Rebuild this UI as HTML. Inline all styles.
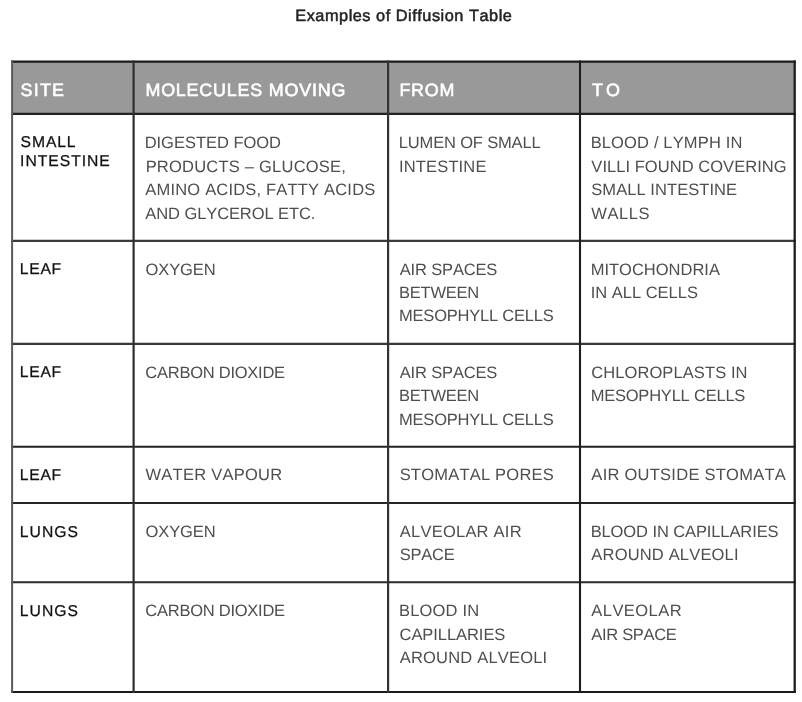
<!DOCTYPE html>
<html lang="en">
<head>
<meta charset="utf-8">
<title>Examples of Diffusion Table</title>
<style>
html,body{margin:0;padding:0;background:#fff;}
body{width:802px;height:702px;position:relative;overflow:hidden;font-family:"Liberation Sans",sans-serif;}
.l{position:absolute;font-kerning:none;text-rendering:geometricPrecision;white-space:nowrap;line-height:1;margin:0;padding:0;}
.t,.t thead,.t tbody,.t tr,.t th,.t td{display:contents;}
h1.l{font-weight:400;}
.g{filter:blur(0.4px);}
.l{filter:blur(0.25px);}
.ttl{font-size:16.3px;font-weight:400;color:#222;-webkit-text-stroke:0.5px #222;}
.hd{font-size:17.9px;font-weight:400;color:#fff;-webkit-text-stroke:0.6px #fff;}
.st{font-size:15.7px;font-weight:400;color:#111;-webkit-text-stroke:0.25px #111;}
.bd{font-size:16.5px;font-weight:400;color:#4e4e4e;}
</style>
</head>
<body>
<svg class="g" width="802" height="702" viewBox="0 0 802 702" style="position:absolute;left:0;top:0">
<rect x="12.10" y="61.60" width="782.60" height="52.30" fill="#999"/>
<line x1="11.10" y1="61.60" x2="795.85" y2="61.60" stroke="#1c1c1c" stroke-width="2.20"/>
<line x1="11.10" y1="113.90" x2="795.85" y2="113.90" stroke="#222" stroke-width="2.10"/>
<line x1="11.10" y1="240.80" x2="795.85" y2="240.80" stroke="#3a3a3a" stroke-width="2.20"/>
<line x1="11.10" y1="343.80" x2="795.85" y2="343.80" stroke="#383838" stroke-width="2.20"/>
<line x1="11.10" y1="446.80" x2="795.85" y2="446.80" stroke="#222" stroke-width="2.00"/>
<line x1="11.10" y1="502.90" x2="795.85" y2="502.90" stroke="#262626" stroke-width="2.00"/>
<line x1="11.10" y1="582.30" x2="795.85" y2="582.30" stroke="#2a2a2a" stroke-width="2.10"/>
<line x1="11.10" y1="692.00" x2="795.85" y2="692.00" stroke="#1a1a1a" stroke-width="2.20"/>
<line x1="12.10" y1="60.50" x2="12.10" y2="693.10" stroke="#5a5a5a" stroke-width="2.00"/>
<line x1="133.60" y1="60.50" x2="133.60" y2="693.10" stroke="#2e2e2e" stroke-width="2.20"/>
<line x1="388.10" y1="60.50" x2="388.10" y2="693.10" stroke="#333" stroke-width="2.20"/>
<line x1="580.00" y1="60.50" x2="580.00" y2="693.10" stroke="#1e1e1e" stroke-width="2.10"/>
<line x1="794.70" y1="60.50" x2="794.70" y2="693.10" stroke="#1c1c1c" stroke-width="2.30"/>
</svg>
<h1 class="l ttl" style="left:295.31px;top:8.00px;letter-spacing:0.532px">Examples of Diffusion Table</h1>
<table class="t">
<thead>
<tr>
<th><span class="l hd" style="left:20.49px;top:82.00px;letter-spacing:1.265px">SITE</span></th>
<th><span class="l hd" style="left:145.43px;top:82.00px;letter-spacing:0.801px">MOLECULES MOVING</span></th>
<th><span class="l hd" style="left:399.43px;top:82.00px;letter-spacing:0.747px">FROM</span></th>
<th><span class="l hd" style="left:591.90px;top:82.00px;letter-spacing:3.201px">TO</span></th>
</tr>
</thead>
<tbody>
<tr>
<td><span class="l st" style="left:20.61px;top:135.00px;letter-spacing:0.875px">SMALL</span><span class="l st" style="left:20.08px;top:154.00px;letter-spacing:0.972px">INTESTINE</span></td>
<td><span class="l bd" style="left:144.65px;top:135.00px;letter-spacing:-0.021px">DIGESTED FOOD</span><span class="l bd" style="left:145.65px;top:159.00px;letter-spacing:0.224px">PRODUCTS – GLUCOSE,</span><span class="l bd" style="left:145.37px;top:182.00px;letter-spacing:0.190px">AMINO ACIDS, FATTY ACIDS</span><span class="l bd" style="left:145.37px;top:206.00px;letter-spacing:-0.095px">AND GLYCEROL ETC.</span></td>
<td><span class="l bd" style="left:398.85px;top:135.00px;letter-spacing:-0.165px">LUMEN OF SMALL</span><span class="l bd" style="left:399.08px;top:159.00px;letter-spacing:0.145px">INTESTINE</span></td>
<td><span class="l bd" style="left:590.65px;top:135.00px;letter-spacing:0.150px">BLOOD / LYMPH IN</span><span class="l bd" style="left:591.33px;top:159.00px;letter-spacing:0.049px">VILLI FOUND COVERING</span><span class="l bd" style="left:591.25px;top:182.00px;letter-spacing:0.071px">SMALL INTESTINE</span><span class="l bd" style="left:591.33px;top:206.00px;letter-spacing:0.548px">WALLS</span></td>
</tr>
<tr>
<td><span class="l st" style="left:19.74px;top:262.00px;letter-spacing:0.734px">LEAF</span></td>
<td><span class="l bd" style="left:145.42px;top:262.00px;letter-spacing:-0.055px">OXYGEN</span></td>
<td><span class="l bd" style="left:399.77px;top:262.00px;letter-spacing:-0.160px">AIR SPACES</span><span class="l bd" style="left:399.05px;top:285.00px;letter-spacing:-0.248px">BETWEEN</span><span class="l bd" style="left:399.05px;top:308.00px;letter-spacing:-0.216px">MESOPHYLL CELLS</span></td>
<td><span class="l bd" style="left:590.65px;top:262.00px;letter-spacing:0.004px">MITOCHONDRIA</span><span class="l bd" style="left:590.68px;top:285.00px;letter-spacing:-0.002px">IN ALL CELLS</span></td>
</tr>
<tr>
<td><span class="l st" style="left:19.74px;top:365.00px;letter-spacing:0.734px">LEAF</span></td>
<td><span class="l bd" style="left:145.36px;top:365.00px;letter-spacing:-0.252px">CARBON DIOXIDE</span></td>
<td><span class="l bd" style="left:399.77px;top:365.00px;letter-spacing:-0.160px">AIR SPACES</span><span class="l bd" style="left:399.05px;top:388.00px;letter-spacing:-0.248px">BETWEEN</span><span class="l bd" style="left:399.05px;top:412.00px;letter-spacing:-0.216px">MESOPHYLL CELLS</span></td>
<td><span class="l bd" style="left:591.16px;top:365.00px;letter-spacing:0.102px">CHLOROPLASTS IN</span><span class="l bd" style="left:590.65px;top:388.00px;letter-spacing:-0.216px">MESOPHYLL CELLS</span></td>
</tr>
<tr>
<td><span class="l st" style="left:19.74px;top:468.00px;letter-spacing:0.734px">LEAF</span></td>
<td><span class="l bd" style="left:145.53px;top:467.00px;letter-spacing:0.245px">WATER VAPOUR</span></td>
<td><span class="l bd" style="left:399.65px;top:467.00px;letter-spacing:0.217px">STOMATAL PORES</span></td>
<td><span class="l bd" style="left:591.37px;top:467.00px;letter-spacing:0.261px">AIR OUTSIDE STOMATA</span></td>
</tr>
<tr>
<td><span class="l st" style="left:19.74px;top:525.00px;letter-spacing:1.067px">LUNGS</span></td>
<td><span class="l bd" style="left:145.42px;top:524.00px;letter-spacing:-0.055px">OXYGEN</span></td>
<td><span class="l bd" style="left:399.77px;top:524.00px;letter-spacing:0.235px">ALVEOLAR AIR</span><span class="l bd" style="left:399.65px;top:547.00px;letter-spacing:-0.195px">SPACE</span></td>
<td><span class="l bd" style="left:590.65px;top:524.00px;letter-spacing:-0.100px">BLOOD IN CAPILLARIES</span><span class="l bd" style="left:591.37px;top:547.00px;letter-spacing:0.175px">AROUND ALVEOLI</span></td>
</tr>
<tr>
<td><span class="l st" style="left:19.74px;top:604.00px;letter-spacing:1.067px">LUNGS</span></td>
<td><span class="l bd" style="left:145.36px;top:603.00px;letter-spacing:-0.252px">CARBON DIOXIDE</span></td>
<td><span class="l bd" style="left:399.05px;top:603.00px;letter-spacing:0.178px">BLOOD IN</span><span class="l bd" style="left:399.56px;top:627.00px;letter-spacing:-0.058px">CAPILLARIES</span><span class="l bd" style="left:399.77px;top:650.00px;letter-spacing:0.191px">AROUND ALVEOLI</span></td>
<td><span class="l bd" style="left:591.37px;top:603.00px;letter-spacing:0.439px">ALVEOLAR</span><span class="l bd" style="left:591.37px;top:627.00px;letter-spacing:-0.323px">AIR SPACE</span></td>
</tr>
</tbody>
</table>
</body>
</html>
